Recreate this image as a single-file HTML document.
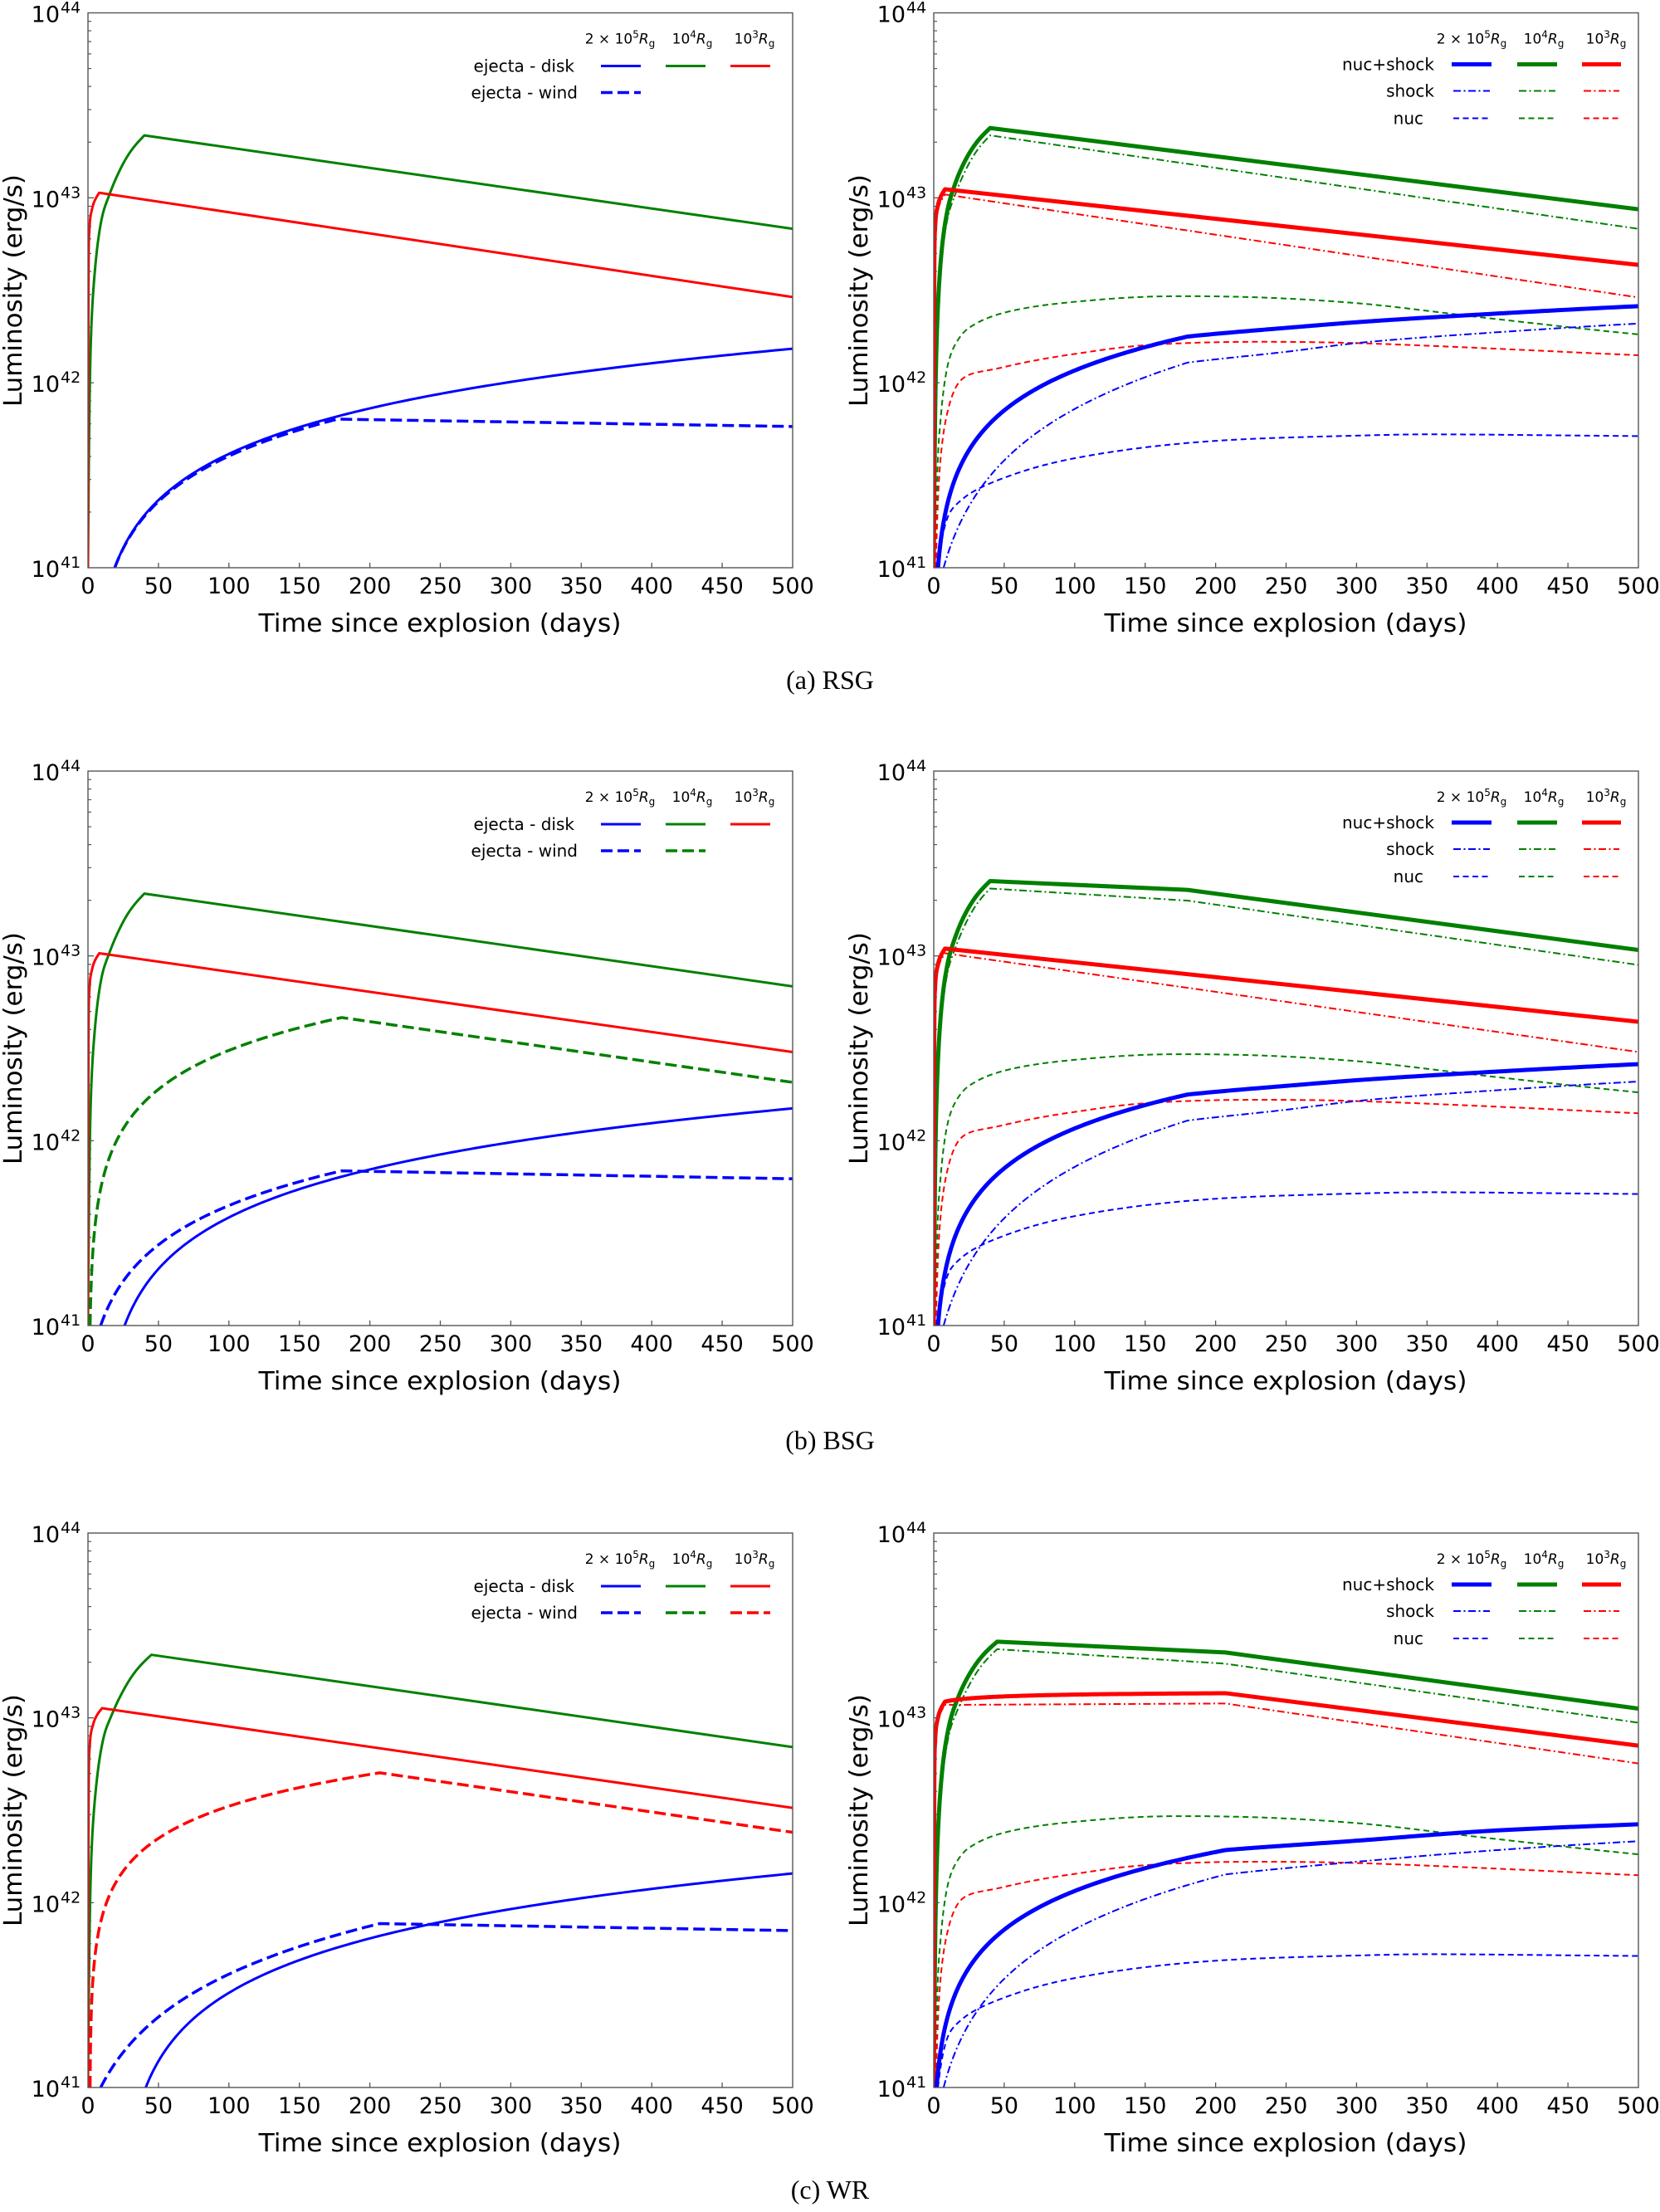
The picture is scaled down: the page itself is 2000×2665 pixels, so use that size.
<!DOCTYPE html>
<html><head><meta charset="utf-8"><style>
html,body{margin:0;padding:0;background:#fff;}
svg{display:block;}
text{font-family:"DejaVu Sans","Liberation Sans",sans-serif;fill:#000;}
.cap{font-family:"Liberation Serif",serif;font-size:32px;}
</style></head><body>
<svg id="s" width="2000" height="2665" viewBox="0 0 2000 2665" xmlns="http://www.w3.org/2000/svg">
<defs>
<clipPath id="cA0"><rect x="106" y="15.5" width="849" height="668.5"/></clipPath>
<clipPath id="cA1"><rect x="1125" y="15.5" width="849" height="668.5"/></clipPath>
<clipPath id="cB0"><rect x="106" y="929" width="849" height="668"/></clipPath>
<clipPath id="cB1"><rect x="1125" y="929" width="849" height="668"/></clipPath>
<clipPath id="cC0"><rect x="106" y="1847" width="849" height="668"/></clipPath>
<clipPath id="cC1"><rect x="1125" y="1847" width="849" height="668"/></clipPath>
</defs>
<g id="curves"></g>
<g id="axes"></g>
<g font-size="27" text-anchor="middle" id="xt"></g>
<g font-size="30">
<text transform="translate(26,350) rotate(-90)" text-anchor="middle" textLength="280" lengthAdjust="spacingAndGlyphs">Luminosity (erg/s)</text>
<text transform="translate(1045,350) rotate(-90)" text-anchor="middle" textLength="280" lengthAdjust="spacingAndGlyphs">Luminosity (erg/s)</text>
<text transform="translate(26,1263) rotate(-90)" text-anchor="middle" textLength="280" lengthAdjust="spacingAndGlyphs">Luminosity (erg/s)</text>
<text transform="translate(1045,1263) rotate(-90)" text-anchor="middle" textLength="280" lengthAdjust="spacingAndGlyphs">Luminosity (erg/s)</text>
<text transform="translate(26,2181) rotate(-90)" text-anchor="middle" textLength="280" lengthAdjust="spacingAndGlyphs">Luminosity (erg/s)</text>
<text transform="translate(1045,2181) rotate(-90)" text-anchor="middle" textLength="280" lengthAdjust="spacingAndGlyphs">Luminosity (erg/s)</text>
<text x="530" y="761" text-anchor="middle" textLength="437" lengthAdjust="spacingAndGlyphs">Time since explosion (days)</text>
<text x="1549" y="761" text-anchor="middle" textLength="437" lengthAdjust="spacingAndGlyphs">Time since explosion (days)</text>
<text x="530" y="1674" text-anchor="middle" textLength="437" lengthAdjust="spacingAndGlyphs">Time since explosion (days)</text>
<text x="1549" y="1674" text-anchor="middle" textLength="437" lengthAdjust="spacingAndGlyphs">Time since explosion (days)</text>
<text x="530" y="2592" text-anchor="middle" textLength="437" lengthAdjust="spacingAndGlyphs">Time since explosion (days)</text>
<text x="1549" y="2592" text-anchor="middle" textLength="437" lengthAdjust="spacingAndGlyphs">Time since explosion (days)</text>
</g>
<text class="cap" x="1000" y="830" text-anchor="middle">(a) RSG</text>
<text class="cap" x="1000" y="1746" text-anchor="middle">(b) BSG</text>
<text class="cap" x="1000" y="2649" text-anchor="middle">(c) WR</text>
<g id="leg" font-size="20"></g>
</svg>
<script>
var NS="http://www.w3.org/2000/svg";
var P={A:{top:15.5,bot:684,zt:30,zb:1307},B:{top:929,bot:1597,zt:87,zb:1277},C:{top:1847,bot:2515,zt:118,zb:1302}};
function lg(p,zy){var q=P[p];return 44-3*(zy-q.zt)/(q.zb-q.zt);}
function Y(p,l){var q=P[p];return q.top+(44-l)*(q.bot-q.top)/3;}
function X(s,t){return (s?1125:106)+t*849/500;}
function el(tag,attrs,parent,txt){var e=document.createElementNS(NS,tag);for(var k in attrs)e.setAttribute(k,attrs[k]);if(txt!=null)e.textContent=txt;(parent||document.getElementById('s')).appendChild(e);return e;}
function mono(xs,ys){var n=xs.length,d=[],m=[];for(var i=0;i<n-1;i++)d.push((ys[i+1]-ys[i])/(xs[i+1]-xs[i]));m[0]=d[0];m[n-1]=d[n-2];for(i=1;i<n-1;i++){m[i]=(d[i-1]*d[i]<=0)?0:(d[i-1]+d[i])/2;}
for(i=0;i<n-1;i++){if(d[i]==0){m[i]=0;m[i+1]=0;continue;}var a=m[i]/d[i],b=m[i+1]/d[i],h=a*a+b*b;if(h>9){var t=3/Math.sqrt(h);m[i]=t*a*d[i];m[i+1]=t*b*d[i];}}
return function(x){var i=0;while(i<n-2&&x>xs[i+1])i++;var hh=xs[i+1]-xs[i],t=(x-xs[i])/hh,t2=t*t,t3=t2*t;return (2*t3-3*t2+1)*ys[i]+(t3-2*t2+t)*hh*m[i]+(-2*t3+3*t2)*ys[i+1]+(t3-t2)*hh*m[i+1];};}
function segPath(s,p,pts){
  var out=[];
  if(pts.length==2||pts.raw){pts.forEach(function(q){out.push([X(s,q[0]),Y(p,q[1])]);});}
  else{var us=pts.map(function(q){return Math.log(q[0]+1);}),ls=pts.map(function(q){return q[1];});var f=mono(us,ls);var N=120;
    for(var k=0;k<=N;k++){var u=us[0]+(us[us.length-1]-us[0])*k/N;var t=Math.exp(u)-1;out.push([X(s,t),Y(p,f(u))]);}}
  return out;}
function draw(p,s,segs,color,w,dash){
  var all=[];segs.forEach(function(sg,i){var o=segPath(s,p,sg);if(i>0)o.shift();all=all.concat(o);});
  var d="M"+all.map(function(q){return q[0].toFixed(2)+","+q[1].toFixed(2);}).join("L");
  var a={d:d,fill:"none",stroke:color,"stroke-width":w,"stroke-linejoin":"round","clip-path":"url(#c"+p+s+")"};
  if(dash)a["stroke-dasharray"]=dash;
  el("path",a,document.getElementById("curves"));}
function Z(p,arr){return arr.map(function(q){return [q[0],lg(p,q[1])];});}
function rise(base,tscale,target){var pk=base[base.length-1][1];return base.map(function(q){return [q[0]*tscale,41+(q[1]-41)*(target-41)/(pk-41)];});}
// smooth fitted rise: log = 41 + c*log10(1+(t-ts)/tau)
function fit(p,ts,a,b,tend){
  var l1=lg(p,a[1])-41,l2=lg(p,b[1])-41,R=l2/l1;
  function r(tau){return Math.log(1+(b[0]-ts)/tau)/Math.log(1+(a[0]-ts)/tau);}
  var lo=-3,hi=6;for(var i=0;i<80;i++){var mid=(lo+hi)/2;if(r(Math.pow(10,mid))<R)lo=mid;else hi=mid;}
  var tau=Math.pow(10,(lo+hi)/2),c=l1/Math.log10(1+(a[0]-ts)/tau);
  var out=[];var N=200;
  for(var k=0;k<=N;k++){var t=ts+(tend-ts)*Math.pow(k/N,2);out.push([t,41+c*Math.log10(1+(t-ts)/tau)]);}
  out.raw=true;return out;}
function last(a){return a[a.length-1];}
var B="#0000ff",G="#008000",R="#ff0000";
var DS="14,6",DN="7,4.5",DD="9,3.5,2,3.5";
var gRise=Z('A',[[0,1307],[0.5,1100],[1,950],[2,790],[5,620],[10,500],[15,450],[20,410],[30,350],[40,312]]);
var rRise=Z('A',[[0,1307],[0.15,900],[0.4,620],[1,530],[3,480],[8,444]]);
function L(p,t,zy){return [t,lg(p,zy)];}
// ---------- A left
draw('A',0,[gRise,[last(gRise),L('A',500,527)]],G,3);
draw('A',0,[rRise,[last(rRise),L('A',500,684)]],R,3);
draw('A',0,[fit('A',19,[100,1045],[500,803],500)],B,3);
(function(){var f=fit('A',19,[100,1050],[177,965],177);draw('A',0,[f,[last(f),L('A',500,982)]],B,3.5,DS);})();
// ---------- B left
(function(){var g=rise(gRise,1,lg('B',350)),r=rise(rRise,1,lg('B',478));
draw('B',0,[g,[last(g),L('B',500,549)]],G,3);
draw('B',0,[r,[last(r),L('B',500,690)]],R,3);
var gd=fit('B',1.5,[50,770],[180,616],180);draw('B',0,[gd,[last(gd),L('B',500,755)]],G,3.5,DS);
draw('B',0,[fit('B',26,[100,1045],[500,811],500)],B,3);
var bd=fit('B',9,[75,1055],[180,945],180);draw('B',0,[bd,[last(bd),L('B',500,962)]],B,3.5,DS);
})();
// ---------- C left
(function(){var g=rise(gRise,45/40,lg('C',378)),r=rise(rRise,10/8,lg('C',492));
draw('C',0,[g,[last(g),L('C',500,575)]],G,3);
draw('C',0,[r,[last(r),L('C',500,705)]],R,3);
var rd=fit('C',1.5,[50,770],[207,630],207);draw('C',0,[rd,[last(rd),L('C',500,757)]],R,3.5,DS);
draw('C',0,[fit('C',41,[150,1030],[500,845],500)],B,3);
var bd=fit('C',9,[100,1060],[207,952],207);draw('C',0,[bd,[last(bd),L('C',500,967)]],B,3.5,DS);
})();
// ---------- right panels
var gTot=Z('A',[[0,1307],[0.5,1100],[1,950],[2,790],[5,600],[10,480],[15,425],[20,385],[30,330],[40,295]]);
var gNuc=Z('A',[[1.5,1307],[2.5,1100],[5,960],[10,840],[20,770],[30,745],[50,720],[100,695],[175,682],[300,698],[400,735],[500,770]]);
var rNuc=Z('A',[[1.5,1307],[3,1150],[5,1050],[10,945],[18,880],[50,845],[100,815],[150,795],[230,787],[300,790],[400,803],[500,818]]);
var bNuc=Z('A',[[3,1307],[10,1190],[20,1150],[50,1100],[100,1055],[200,1015],[300,1003],[350,1000],[500,1004]]);
var bShR=fit('A',7,[50,1060],[180,835],180);
var bSh=[bShR,[last(bShR)].concat(Z('A',[[250,810],[300,790],[400,765],[500,745]]))];
var bTotR=fit('A',3,[50,945],[180,775],180);
var bTot=[bTotR,[last(bTotR)].concat(Z('A',[[250,755],[300,742],[400,722],[500,705]]))];
function nucs(p){draw(p,1,[gNuc],G,2,DN);draw(p,1,[rNuc],R,2,DN);draw(p,1,[bNuc],B,2,DN);}
// A right
nucs('A');
draw('A',1,[gRise,[last(gRise),L('A',500,527)]],G,2,DD);
(function(){var r=rise(rRise,1,lg('A',448));draw('A',1,[r,[last(r),L('A',500,685)]],R,2,DD);})();
draw('A',1,bSh,B,2,DD);
draw('A',1,[gTot,[last(gTot),L('A',500,482)]],G,5);
(function(){var r=rise(rRise,1,lg('A',436));draw('A',1,[r,[last(r),L('A',500,610)]],R,5);})();
draw('A',1,bTot,B,5);
// B right
nucs('B');
(function(){var gs=rise(gRise,1,lg('B',339));draw('B',1,[gs,[last(gs),L('B',180,365)],[L('B',180,365),L('B',500,503)]],G,2,DD);
var rs=rise(rRise,1,lg('B',478));draw('B',1,[rs,[last(rs),L('B',500,690)]],R,2,DD);
draw('B',1,bSh,B,2,DD);
var gt=rise(gTot,1,lg('B',323));draw('B',1,[gt,[last(gt),L('B',180,342)],[L('B',180,342),L('B',500,471)]],G,5);
var rt=rise(rRise,1,lg('B',468));draw('B',1,[rt,[last(rt),L('B',500,625)]],R,5);
draw('B',1,bTot,B,5);})();
// C right
nucs('C');
(function(){var gs=rise(gRise,45/40,lg('C',366));draw('C',1,[gs,[last(gs),L('C',207,397)],[L('C',207,397),L('C',500,523)]],G,2,DD);
var rs=rise(rRise,1,lg('C',485));draw('C',1,[rs,[last(rs),L('C',207,482)],[L('C',207,482),L('C',500,610)]],R,2,DD);
var cs=fit('C',7,[50,1070],[207,847],207);draw('C',1,[cs,[last(cs)].concat(Z('C',[[300,820],[400,795],[500,776]]))],B,2,DD);
var gt=rise(gTot,45/40,lg('C',350));draw('C',1,[gt,[last(gt),L('C',207,373)],[L('C',207,373),L('C',500,493)]],G,5);
var rt=rise(rRise,1,lg('C',478));draw('C',1,[rt,Z('C',[[8,478],[100,463],[207,460]]),[L('C',207,460),L('C',500,572)]],R,5);
var ct=fit('C',2,[50,965],[207,795],207);draw('C',1,[ct,[last(ct)].concat(Z('C',[[300,775],[400,753],[500,740]]))],B,5);})();

// ---------- axes
var ax=document.getElementById("axes");
['A','B','C'].forEach(function(p){[0,1].forEach(function(s){
  var q=P[p],x0=X(s,0),x1=X(s,500);
  el("rect",{x:x0,y:q.top,width:x1-x0,height:q.bot-q.top,fill:"none",stroke:"#555","stroke-width":1.4},ax);
  for(var t=50;t<500;t+=50){el("line",{x1:X(s,t),x2:X(s,t),y1:q.bot,y2:q.bot-6,stroke:"#555","stroke-width":1.3},ax);}
  for(var dd=41;dd<44;dd++){for(var m=2;m<10;m++){var yy=Y(p,dd+Math.log10(m));el("line",{x1:x0,x2:x0+4,y1:yy,y2:yy,stroke:"#555","stroke-width":1.2},ax);}
    if(dd>41){var yv=Y(p,dd);el("line",{x1:x0,x2:x0+7,y1:yv,y2:yv,stroke:"#555","stroke-width":1.3},ax);}}
  var xt=document.getElementById("xt");
  for(t=0;t<=500;t+=50)el("text",{x:X(s,t),y:q.bot+31},xt,String(t));
  for(dd=41;dd<=44;dd++){var yv2=Y(p,dd);el("text",{x:x0-34,y:yv2+11,"font-size":27,"text-anchor":"end"},null,"10");
    el("text",{x:x0-33,y:yv2,"font-size":19},null,String(dd));}
  var lgG=document.getElementById("leg"),top=q.top;
  var hx=s?[1773,1860,1935]:[747,834,909];
  var hd=[["2 × 10","5"],["10","4"],["10","3"]];
  hd.forEach(function(h,i){var t=el("text",{x:hx[i],y:top+37,"text-anchor":"middle","font-size":17},lgG);
    el("tspan",{},t,h[0]);el("tspan",{dy:-7,"font-size":12},t,h[1]);el("tspan",{dy:7,"font-style":"italic"},t,"R");el("tspan",{dy:4,"font-size":12},t,"g");});
  var cols=[B,G,R];
  if(!s){var lx=[[724,772],[802,850],[880,928]];
    el("text",{x:692,y:top+71,"text-anchor":"end"},lgG,"ejecta - disk");
    el("text",{x:696,y:top+103,"text-anchor":"end"},lgG,"ejecta - wind");
    var nw=p=='A'?1:p=='B'?2:3;
    for(var i=0;i<3;i++){el("line",{x1:lx[i][0],x2:lx[i][1],y1:top+64,y2:top+64,stroke:cols[i],"stroke-width":3},lgG);
      if(i<nw)el("line",{x1:lx[i][0],x2:lx[i][1],y1:top+96,y2:top+96,stroke:cols[i],"stroke-width":3.5,"stroke-dasharray":DS},lgG);}
  }else{var lx2=[[1749,1797],[1828,1876],[1906,1953]];
    el("text",{x:1728,y:top+69,"text-anchor":"end"},lgG,"nuc+shock");
    el("text",{x:1728,y:top+101,"text-anchor":"end"},lgG,"shock");
    el("text",{x:1715,y:top+134,"text-anchor":"end"},lgG,"nuc");
    for(i=0;i<3;i++){el("line",{x1:lx2[i][0],x2:lx2[i][1],y1:top+62,y2:top+62,stroke:cols[i],"stroke-width":5},lgG);
      el("line",{x1:lx2[i][0]+2,x2:lx2[i][1]-2,y1:top+94,y2:top+94,stroke:cols[i],"stroke-width":2,"stroke-dasharray":DD},lgG);
      el("line",{x1:lx2[i][0]+2,x2:lx2[i][1]-2,y1:top+127,y2:top+127,stroke:cols[i],"stroke-width":2,"stroke-dasharray":DN},lgG);}
  }
});});
</script>
</body></html>
